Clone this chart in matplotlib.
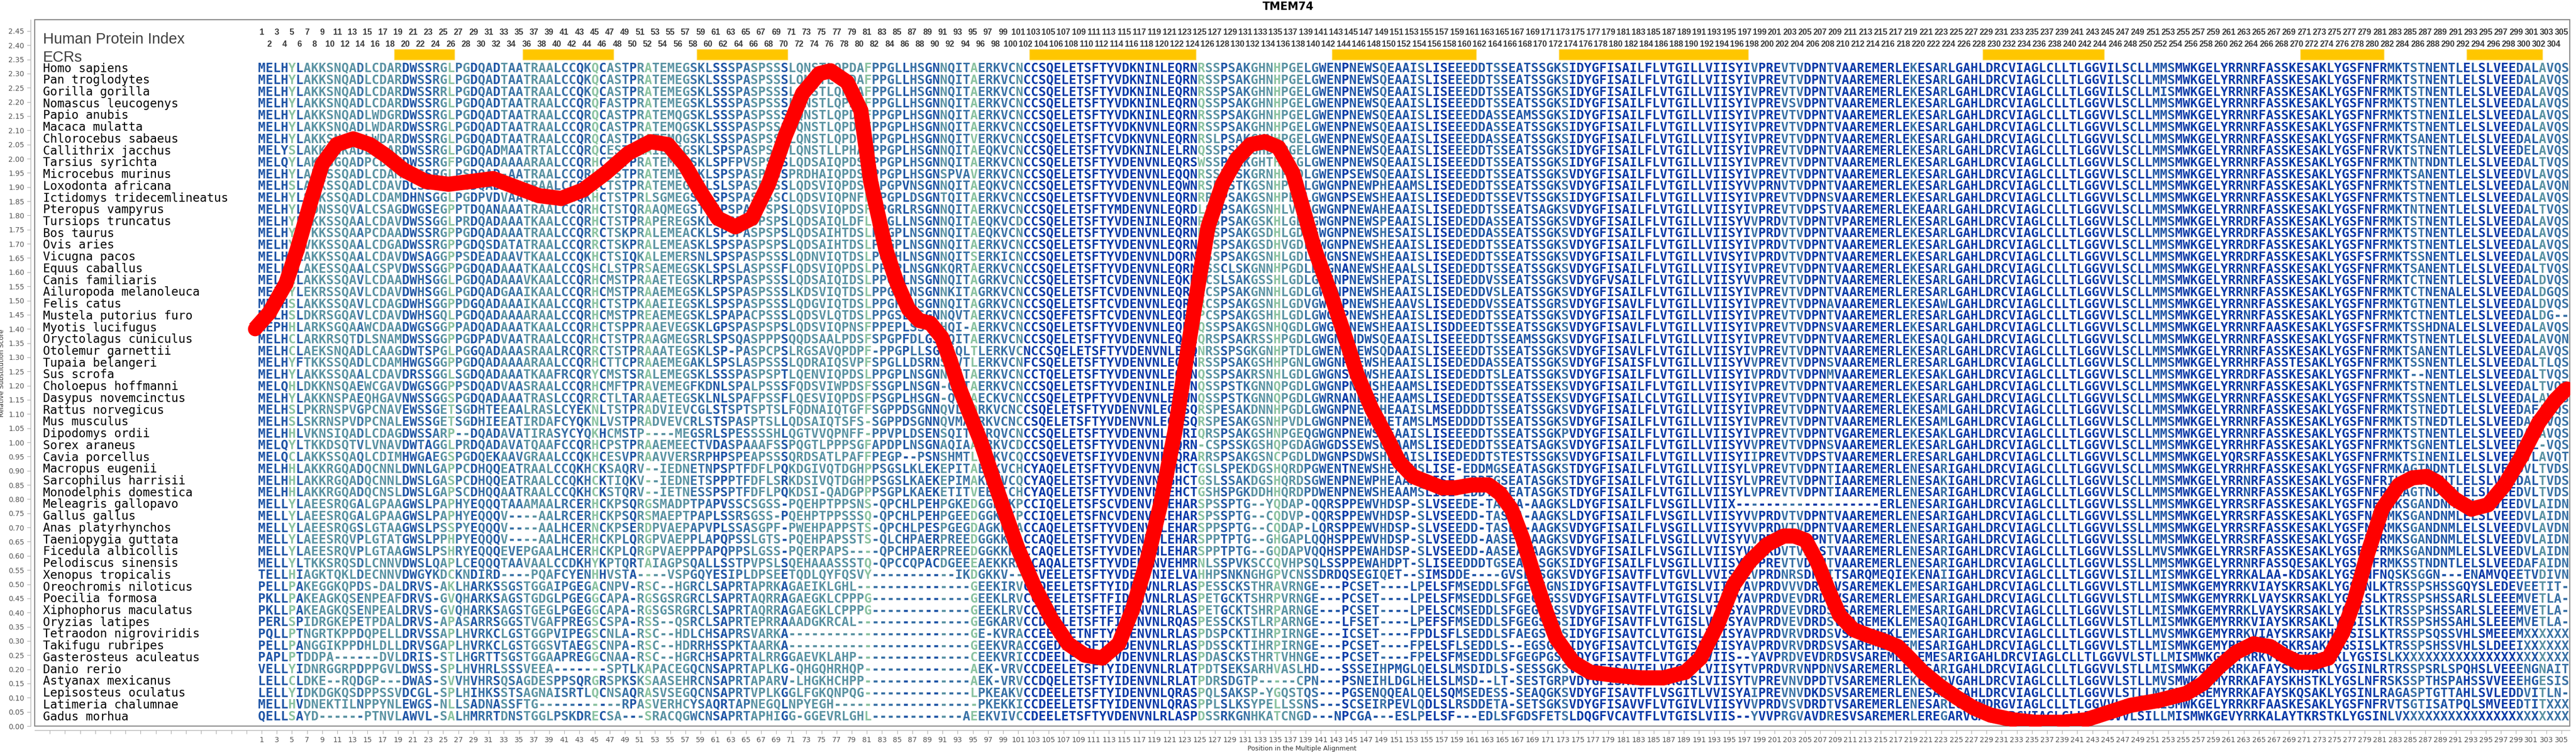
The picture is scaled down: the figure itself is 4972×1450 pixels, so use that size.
import matplotlib
matplotlib.use("Agg")
import matplotlib.pyplot as plt
from matplotlib.patches import Rectangle
from matplotlib import font_manager
import numpy as np

title = "TMEM74"
species = ["Homo sapiens", "Pan troglodytes", "Gorilla gorilla", "Nomascus leucogenys", "Papio anubis",
           "Macaca mulatta", "Chlorocebus sabaeus", "Callithrix jacchus", "Tarsius syrichta", "Microcebus murinus",
           "Loxodonta africana", "Ictidomys tridecemlineatus", "Pteropus vampyrus", "Tursiops truncatus",
           "Bos taurus", "Ovis aries", "Vicugna pacos", "Equus caballus", "Canis familiaris",
           "Ailuropoda melanoleuca", "Felis catus", "Mustela putorius furo", "Myotis lucifugus",
           "Oryctolagus cuniculus", "Otolemur garnettii", "Tupaia belangeri", "Sus scrofa",
           "Choloepus hoffmanni", "Dasypus novemcinctus", "Rattus norvegicus", "Mus musculus",
           "Dipodomys ordii", "Sorex araneus", "Cavia porcellus", "Macropus eugenii", "Sarcophilus harrisii",
           "Monodelphis domestica", "Meleagris gallopavo", "Gallus gallus", "Anas platyrhynchos",
           "Taeniopygia guttata", "Ficedula albicollis", "Pelodiscus sinensis", "Xenopus tropicalis",
           "Oreochromis niloticus", "Poecilia formosa", "Xiphophorus maculatus", "Oryzias latipes",
           "Tetraodon nigroviridis", "Takifugu rubripes", "Gasterosteus aculeatus", "Danio rerio",
           "Astyanax mexicanus", "Lepisosteus oculatus", "Latimeria chalumnae", "Gadus morhua"]

# alignment columns 1-81
seg_a = [
"MELHYLAKKSNQADLCDARDWSSRGLPGDQADTAATRAALCCQKQCASTPRATEMEGSKLSSSPASPSSSLQNSTLQPDAF",
"MELHYLAKKSNQADLCDARDWSSRGLPGDQADTAATRAALCCQKQCASTPRATEMEGSKLSSSPASPSSSLQNSTLQRDAF",
"MELHYLAKKSNQADLCDARDWSSRRLPGDQADTAATRAALCCQKQCASTPRATEMEGSKLSSSPASPSSSLQNSTLQPDAF",
"MELHYLAKKSNQADLCDARDWSSRGLPGDQADTAATRAALCCQRQFASTPRATEMEGSKLSSSPASPSSSLQNSTLQPDAF",
"MELHYLAKKSNQADLWDGRDWSSRGLPGDQADTAATRAALCCQRQCASTPRATEMQGSKLSSSPASPSSSLQNSTLQPDAF",
"MELHYLAKKSNQADLWDARDWSSRGLPGDQADTAATRAALCCQRQCASTPRATEMQGSKLSSSPASPSSSLQNSTLQPDTF",
"MELHYLAKKSNQADLWDARDWSSRGLPGDQADTAATRAALCCQRQCASTPRATEMQGSKLSSSPASPSSSLQNSTLQPDTF",
"MELYSLAKKSNKADLCDARDWSSRGLPGDQADMAATRTALCCQRQCESTPRAIEMEGSKLSPSPASPSPSLQNSTLLPHAF",
"MELQYLAKKSGQADPCDAMDWSSRGFPGDQADAAAARAALCCQRHCTSTPRATEMEGSKLSPFPVSPSTSLQDSAIQPDSF",
"MELHYLAEKSSQADLCDAMNWSSRGLPSDQAD-AATRAALCCQRHCTSTPRATEMEGSKLSPSPASPCSSPRDHAIQPDSF",
"MELHSLAQKSSQADLCDAVDCSSEGPPGDQADAAATRAALCCQRQCTSTPRATEMEGSKLSLSPASPSSSLQDSVIQPDSF",
"MELHYLSKKSSQADLCDAMDHNSGGLPGDPVDVAATRAALCCQKHCTSTPRLSGMEGSRLSPSPASPSSCLQDSVIQPNFF",
"MELHYLADNSSQVALCSAGDWGSEGPPTDQANAAATRAALCCQRHCTSTQRAAQMEGSTLSPSPASPSPSLQDSVIQPDSF",
"MELHYLAKKSSQAALCDAVDWSSGGLPRDQADAAATKAALCCQRHCTSTPRAPEREGSKLSPSPASPSPSLQDSAIQLDFL",
"MELHYLVKKSSQAAPCDAADWSSRGPPGDQADAAATRAALCCQRRCTSKPRALEMEACKLSPSPASPSPSLQDSAIHTDSL",
"MELHYLVKKSSQAALCDGADWSSRGPPGDQSDATATRAALCCQRRCTSKPRALEMEASKLSPSPASPSPSLQDSAIHTDSL",
"MELHYLAKKSSQAALCDAVDWSAGGPPSDEADAAVTKAALCCQKHCTSIQKALEMERSNLSPSPASPSSSLQDNVIQTDSL",
"MELHYLAKESSQAALCSPVDWSSGGPPGDQADAAATKAALCCQSHCLSTPRSAEMEGSKLSPSLASPSSFLQDSVIQPDSL",
"MELHCLAKKSSQAVLCDAADWHSGGLPGDQADAAAVKAALCCQRHCMSTPRAAETEGSKLRPSPASPSSSLQDSAIQIDSL",
"MELHYLEKRSSQAVLCDAVDWHSGGLPGDQADGAAIKAALCCQRHCMSTPRAAEMEGSKLSPSPASPSSSLKDSVIQTDSL",
"MELHSLAKKSSQAVLCDAGDWHSGGPPDGQADAAAIKAALCCQRHCTSTPKAAEIEGSKLSPSPASPSSSLQDGVIQTDSL",
"MELHSLDKRSGQAVLCDAVDWHSGQLPGDQADAAAARAALCCQRHCMSTPREAEMEGSKLSPAPACPSSSLQDSVLQTDSL",
"MEPHHLARKSGQAAWCDAADWGSGGPPADQADAAATKAALCCQRHCTSPPRAAEVEGSKLGPSPASPSPSLQDSVIQPNSF",
"MELHCLARKRSQTDLSNAMDWSSGGPPGDPADVAATRAALCCQRHCTSTPRAAGMEGSRLSPSQASPPPSQQDSAALPDSF",
"MELHCLAEKSNQADLCAAGDWTSPGLPGGQADAAASRAALRCQRRCTSTPRAAATEGSKLSP-PASPCPSLRGSAVQPDPF",
"MELHYFTKKSSQADLCDAMHWGSGGPPGDQADAAAARAALCCQRHCTTCPRAAEMEGAKLSPSLASPSSSLQDRAIQSVPF",
"MELHYLAKKSSQAALCDAVDRSSGGLSGDQADAAATKAAFRCQRYCMSTSRALEMEGSKLSSSPASPSPTLQENVIQPDSL",
"MELQHLDKKNSQAEWCGAVDWGSGGPPSDQADVAASRAALCCQRHCMFTPRAVEMEGFKDNLSPALPSSSFQDSVIWPDSF",
"MELHYLAKKNSPAEQHGAVNWSSGGSPGDQADAAATRASLCCQRRCTLTARAAETEGSKLNLSPAFPSSFLQESVIQPDSF",
"MELHSLPKRNSPVGPCNAVEWSSGETSGDHTEEAALRASLCYEKNLTSTPRADVIEVCGLSTSPTSPTSLFQDNAIQTGFF",
"MELHSLSKRNSPVDPCNALEWSSGETSGDHIEEATIRDAFCYQKNLVSTPRADVEVCRLSTSPASPTSLLQDSAIQTSFS",
"MELHHLVKNSIQADLCDAGDWSSARP--DQADAVATIRASYCYQKHCMSTP----MEGSRLSPESSSSHLQGTVVQPNFF",
"MELQYLTKKDSQTVLVNAVDWTAGGLPRDQADAVATQAAFCCQRHCPSTPRAAEMEECTVDASPAAAFSSPQGTLPPPSGF",
"MELQCLAKKSSQAQLCDIMHWGAEGSPGDQEKAAVGRAALCCQKHCESVPRAAVVERSRPHPSPEAPSSSQRDSATLPAFF",
"MELHHLAKKRGQADQCNNLDWNLGAPPCDHQQEATRAALCCQKHCKSAQRV--IEDNETNPSPTFDFLPQKDGIVQTDGHP",
"MELHHLAKKRGQADQCNNLDWSLGASPCDHQQEATRAALCCQKHCKTIQKV--IEDNETSPPPTFDFLSRKDSIVQTDGHP",
"MELHHLAKKRGQADQCNSLDWSLGAPSCDHQQAATRAALCCQKHCKSTQRV--IETNESSPSPTFDFLPQKDSI-QADGPP",
"MELLYLAEESRQGALGPAAGWSLPAPHYEQQQTAAAMAALRCERHCKPSQRGSMADPTPAPVSSCSGSS-PQEHPTPPSNS",
"MELLYLAEESRQGALGPAAGWSLPAPHYEQQQV----AALRCERHCKPSQRSMAEPTPAPLSSRSGSS-PQEHPTPPSSSQ",
"MELLYLAEESRQGSLGTAAGWSLPSSPYEQQQV----AALHCERNCKPSERDPVAEPAPVPLSSASGPF-PWEHPAPPSTS",
"MELLYLAEESRQVPLGTATGWSLPPHPYEQQQV----AALHCERHCKPLQRGPVAEPPLAPQPSSLGTS-PQEHPAPSSTS",
"MELLYLAEESRQVPLGTAAGWSLPSHRYEQQQEVEPGAALHCERHCKPLQRGPVAEPPPAPQPPSLGSS-PQERPAPS---",
"MELLYLTKKSRQSDLCNNVDWSLQAPLCEQQQTAAVAALCCDKHYKPTQRTAIAGPSQALLSSTPVPSLSQEHAAASSSTQ",
"TELLHIAGKTQKLDECNNVDWGYKDCKNDIRD----PQAFCYENHHVSTA----VSPGQYESIPLDPSEETQDLQYFQSVY",
"PELLPAKEGGKQPDS-DALDRVS-AKLHARKSSGSTGGAIPGEGACNPV-RSC--HGRCLSAPRTAPRKAGAEIKLGHL--",
"PKLLPAKEAGKQSENPEAFDRVS-GVQHARKSAGSTGDGLPGEGGCAPA-RGSGSRGRCLSAPRTAQRRAGAEGKLCPPPG",
"PKLLPAKEAGKQSENPEALDRVS-GVQHARKSAGSTGEGLPGEGGCAPA-RGSGSRGRCLSAPRTAQRRAGAEGKLCPPPG",
"PERLSPIDRGKEPETPDALDRVS-APASARRSGGSTVGAFPREGSCSPA-RSS--QSRCLSAPRTEPRRAAADGKRCAL--",
"PQLLPTNGRTKPPDQPELLDRVSSAPLHVRKCLGSTGGPVIPEGSCNLA-RSC--HDLCHSAPRSVARKA-----------",
"PELLPANGGIKPPDHLDLLDRVSGAPLHVRKCLGSTGGSVTAEGSCNPA-RSC--HDRRHSSPKTAARKA-----------",
"PAPLPTDDPA------DVLDRIS-STLHGRTTSGSTGGAAPREGGCNAA-RSC--HGRCHSAPRTALRRGGAEVKLAHP--",
"VELLYIDNRGGRPDPPGVLDWSS-SPLHVHRLSSSVEEA-------SPTLKAPACEGQCNSAPRTAPLKG-QHGQHRHQP-",
"LELLCLDKE--RQDGP---DWAS-SVVHVHRSQSAGDESPPSQRGRSPKSKSAASEHRCNSAPRTAPARV-LHGKHCHPP-",
"LELLYIDKDGKQSDPPSSVDCGL-SPLHIHKSSTSAGNAISRTLQCNSAQRASVSEGQCNSAPRTVPLKGGLFGKQNPQG-",
"MELLHVDNEKTILNPPYNLEWGS-NLLSADNASSFTG-----------RPASVERHCYSAQRTAPNEGQLNPYEGH-----",
"QELLSAYD------PTNVLAWVL-SALHMRRTDNSTGGLPSKDRECSA---SRACQGWCNSAPRTAPHIGG-GGEVRLGHL",
]
# alignment columns 82-195 (right-aligned)
seg_b = [
"PPGLLHSGNNQITAERKVCNCCSQELETSFTYVDKNINLEQRNRSSPSAKGHNHPGELGWENPNEWSQEAAISLISEEEDDTSSEATSSGKSIDYGFISAILFLVTGILLVIIS",
"PPGLLHSGNNQITAERKVCNCCSQELETSFTYVDKNINLEQRNRSSPSAKGHNHPGELGWENPNEWSQEAAISLISEEEDDTSSEATSSGKSIDYGFISAILFLVTGILLVIIS",
"PPGLLHSGNNQITAERKVCNCCSQELETSFTYVDKNINLEQRNRSSPSAKGHNHPGELGWENPNEWSQEAAISLISEEEDDTSSEATSSGKSIDYGFISAILFLVTGILLVIIS",
"PPGLLHSGNNQITAERKVCNCCSQELETSFTYVDKNINLEQRNQSSPSAKGHNHPGELGWENPNEWSQEAAISLISEEEDDTSSEATSSGKSIDYGFISAILFLVTGILLVIIS",
"PPGPLHSGNNQITAERKVCNCCSQELETSFTYVDKNINLEQRNRSSPSAKGHNHPGELGWENPNEWSQEAAISLISEEEDDASSEAMSSGKSIDYGFISAILFLVTGILLVIIS",
"PPGPLHSGNNQITAERKVCNCCSQELETSFTYVDKNVNLEQRNRSSPSAKGHNHPGELGWENPNEWSQEAAISLISEEEDDASSEATSSGKSIDYGFISAILFLVTGILLVIIS",
"PPGPLHSGNNQITVERKVCNCCSQELETSFTCVDKNVNLEQRNRSLPSAKGHNHPGELGWENPNEWSQEAAISLISEEEDDASSEATSSGKSIDYGFISAILFLVTGILLVIIS",
"PPGPLHSGNNQITAEQKVCNCCSQELETSFTYVDKNINLELRNQSSPSVKGHDHPGELGWENPNEWSQEAAISLISEEEDDTSSEATSSGKSIDYGFISAILFLVTGILLVIIS",
"PPGPLHSGNNQITAERKVCNCCSQELETSFTYVDENVNLEQRSWSSPSAKGHTHSGGLGWENPNEWSQEAAISLISEEEDDTSSEATSSGKSIDYGFISAILFLVTGILLVIIS",
"PPGPLHSGNSPVAVERKVCNCCSQELETSFTYVDENVNLEQQNRSSPSSKGRNHPGDLGWENPSEWSQEAAISLISEEEDDTSSEATSSGKSVDYGFISAILFLVTGILLVIIS",
"PPGPVNSGNNQITAEQKVCNCCSQELETSFTYVDENVNLEQWNRSFPSTKGSNHPGTLGWGNPNEWPHEAAMSLISEDEDDTSSEATSSGKSVDYGFISAILFLVTGILLVIIS",
"PPGPLDSGNTQITAERKVCNCCSQELETSFTYVDENVNLEQRNRRSPSAKGSNHPEDLGWGNPSEWSHEAAISLISEDEDDTSSEVTSSGKSIDYGFISAILFLVTGILLVIIS",
"PPGRLRSGNNQITAERKVCNCCSQELETSFTYMDENVNLEQRDLSSPSAKGSNHLVDLGWGNPNEWAHEAAISLISEDEDDTSSEATSAGKSVDYGFISAILFLVTGILLVIIS",
"PPGLLNSGNNQITAEQKVCDCCSQELETSFTYVDENINLEQRNRCSPSAKGSKHLGDLGWGNPNEWSPEAAISLISEDEDDASSEATSSGKSVDYGFISAILFLVTGILLVIIS",
"PPGPLNSGNNQITAEQKVCNCCSQELETSFTYVDENVNLEQRNRRSPSAKGSDHLGDLGWGNPNEWSHESAISLISEDEDDASSEATSSGKSVDYGFISAILFLVTGILLVIIS",
"PPGPLNSGNNQITAERKVCNCCSQELETSFTYVDENVNLEQRNRRSPSAKGSDHVGDLDWGNPNEWSHEAAISLISEDEDDTSSEATSSGKSVDYGFISAILFLVTGILLVIIS",
"PQGHLNSGNNQITSERKICNCCSQELETSFTYVDENVNLDQRNRSSPSAKGSNHLGDLGWGNSNEWSHEAAISLISEDEDDTSSEATSSGKSVDYGFISAILFLVTGILLVIVS",
"PPGPLNSGNKQRTAERKVCNCCSQELETSFTYVDENVNLEQRNRSSCLSKGNNHPGDLDWGNANEWSHEAALSLISEDEDDTSSEATSSGKSVDYGFISAILFLVTGILLVIIS",
"PPGPLNSGNNQITAGRKVCNCCSQELETSFTCVDENVNLEQKNRCSLSAKGSSHLGDLGWGNPNEWSHEPAISLISEDEDDVSSEATSSGKSVDYGFVSAILFLVTGILLVIIS",
"PPGPLNSGNNKITAGRKVCNCCSQELETSFTCVDENVNLEQRNRCSPSAKGNNHLGDLGWANPNEWSHEAAISLISEDEDDVSLEATSSGKSVDYGFISAILFLVTGILLVIIS",
"PPGPLNSGNNQITAGRKVCNCCSQELETSFTCVDENVNLEQRNRCSPSAKGSNHLGDVGWGNPNEWSHEAAVSLISEDEDDVSSEATSSGRSVDYGFISAVLFLVTGILLVIIS",
"PPGSLNSGNNQVTAERKVCNCCSQEFETSFTCVDENVNLEQRNPCSPSAKGSHHLGDLGWGNPNEWSHEAAISLISEDEDDTSSEATSSGKSVDYGFISAILFLVTGILLVIIS",
"PPEPLSSGNHQI-AERKVCNCCSQELETSFTYVDENVNLEQRNQSSPSAKGSNHQGDLGWGNPNEWSHEAAISLISDDEEDTSSEATSSGKSVDYGFISAVLFLVTGILLVIIS",
"SPGPFDLGSSQITAERKVCNCCSQELETSFTYVDENVNLEQRNQRSPSAKRSSHPGDLGWGNPNDWSQEAAISLISEEEDDTSSEAMSSGKSVDYGFISAILFLVTGILLVIIS",
"PPGPLLSGNSQLTLERKVCNCCSQELETSFTYVDENVNLEQQNRSSPSGKGNHPTDLGWENPNEWSQDAAISLISEEEDDTSSEATSSGKSVDYGFISAVLFLVTGILLVIIS",
"SPGLLDSRNSEVTLERKVCNFCSQELETSFTYVDENVNLEQRNRSSPSAKGSHHPGNLGWGNPNEWSHEAAISLISEDEDDASSEATSSGKSVDYGFISAISFLVTGILLVIIS",
"PPGPLNSGNNLITAERKVCNCCTQELETSFTYVDENVNLEQRNQSSPSAKRSNHLGDLGWGNSNEWSHEAAISLISEDEDDTSLEATSSGKSVDYGFISAILFLVTGILLVIIS",
"SSGPLNSGN-QITAERKVCNCCSQELETSFTYVDENINLEQWNQSSPSTKGNNQPGDLGWGNPNENSHEAAMSLISEDEDDTSSEATSSEKSVDYGFISAILFLVTGILLVIIS",
"PSGPLHSGN-QLTAECKVCNCCSQELETPFTYVDENVNLEQWNQSSPSTKGNNQPGDLGWRNANEWSHEAAMSLISEDEDDTSSEATSSEKSVDYGFISAILCLVTGILLVIIS",
"PSGPPDSGNNQVLADRKVCNCCSQELETSFTYVDENVNLEQRSQRSPESAKDNNHPGDLGWGNPNEWSHEAAISLMSEDDDDTSSEATSSGKSVDYGFISAILFLVTGILLVIIS",
"LSGPPDSGNNQVMADRKVCNCCSQELETSFTYVDENVNLEQRSQRSPESAKGSNHPVDLGWGNPNEWSHETAMSLMSEDDDDTSSEATSSGKSVDYGFISAILFLVTGILLVIIS",
"PPVPLDSENSQITGERQVCNCCSQELETSFTYVDENVNLEQRIQRSPSAKGSHNPGEQGWGNPNEWSQEAAISLISEEEDDTSSEATSSGKPVDYGFISAILFLVTGILLVIIS",
"APDPLNSGNAQIAAERKVCDCCSQELETSFTYVDENVNLEQRN-CSPSSKGSHQPGDAGWGDSSEWSQEAAMSLISEDEDDTSSEATSAGKSVDYGFISAILFLVTGILLVIIS",
"PEGP--PSNSHMTLERKVCQCCSQEVETSFIYVDENVNLEQRARRSPSAKGSNCPGDLDWGNPSDWSHEAAISLISEDEDDTSTESTSSGKSVDYGFISAILFLVTGILLVIIS",
"PSGSLKLEKEPITAEEKVCHCYAQELETSFTYVDENVNLEHCTGSLSPEKDGSHQRDPGWENTNEWSHEAAMSLISE-EDDMGSEATASGKSTDYGFISAILFLVTGILLVIIS",
"PSGSLKAEKEPIMAKN-VCQCYAQELETSFTYVDENVNLGHCTGSLSSAKDGSHQRDSGWENPNEWPHEAAMSLISE-EDDTGSEATASGKSTDYGFISAILFLVTGILLVIIS",
"PSGPLKAEKETITVEEKICHCYAQELETSFTYVDENVNLEHCTGSHSPGKDDHHQRDPDWENPNEWSHEAAMSLISE-EDDTGSEATASGKSTDYGFISAILFLVTGILLVIIS",
"QPCHLPEHPGKEDGGKKKPCCIQELETSFSCVDENVNLEHARSPSSPTG--YQDAP-QQRSPPEWVHDSP-SLVSEEDE-TASEA-AAGKSLDYGFISAILFLVSGILLVIIX",
"QPCHLPEHPGEEDGGKKKPCCIQELETSFNCVDENVNLEHARSPSSPTG--CQDVP-QQRSPPEWVHDSP-SLVSEEDD-TASEA-AAGKSLDYGFISAILFLVSGILLVIIS",
"QPCHLPESPGEGDAGKKKACCAQELETSFTYVDENVNLEHARSPPSPTG--CQDAP-LQRSPPEWVHDSP-SLVSEEDD-TASEA-AAGKSVDYGFISAILFLVSGILLVIIS",
"QLCHPAERPREEDGGKKKACCAQELETSFTYVDENVNLEHARSPPTPTG--GHGAPLQQHSPPEWVHDSP-SLVSEEDD-AASEA-AAGKSVDYGFISAILFLVSGILLVVIS",
"QPCHPAERPREEDGGKKKPCCAQELETSFTYVDENVNLEHARSPPTPTG--GQDAPVQQHSPPEWAHDSP-SLVSEEDD-AASEA-AAGKSVDYGFISAILFLVSGILLVIIS",
"QPCCQPACDGEEEAEKKRACCAQALETSFTYVDENVNVEHMRNLSSPVKSCCQVHPSQLSSPPEWAHDPT-SLISEEDDDTGSEA-ASGKSIDYGFISAILFLVSGILLVIIS",
"----------IKDGKKV--CCVEELETSFTYVDENVNIELVAHHPSNKNGHGPVCNSSDRDQSEGIQET--SIMSDDE----GVSEASGKSVDYGFISAVTFLVTGVLLVVIS",
"-----------GEEKIRVCCDEELETSFTYIDENVNLRLASPESSCKSTHRAVRNGE---PCSET----LPELSFMSEDDLSFGEGSGNSIDYGFISAVTFLVTGISLVIIS",
"-----------GEEKLRVCCDEELETSFTFIDENVNLRLASPETGCKTSHRPVRNGE---PCSET----LPELSFMSEDDLSFGEGSGSSVDYGFISAVTFLVTGISLVIIS",
"-----------GEEKLRVCCDEELETSFTFIDENVNLRLASPETGCKTSHRPARNGE---PCSET----LPELSCMSEDDLSFGEGSGSSVDYGFISAVTFLVTGISLVIIS",
"-----------GEGKARVCCDRELETSFTFIDENVNLRQASPESSCKSTLRPARNGE---LFSET----LPEFSFMSEDDLSFGEGSGSSIDYGFISAVTFLVTGISLVIIS",
"-----------GE-KVRACCEEDLETNFTYVDENVNLRLASPDSPCKTIHRPIRNGE---ICSET----FPDLSFLSEDDLSFAEGSGTSIDYGFISAVTCLVTGISLVIIS",
"-----------GEEKVRACCGEDLETSFTYVDENVNLRLASPDSSCKTIHRPIRNGE---PCSET----FPELSFLSEDDLS--EGSGTSIDYGFISAVTCLVTGISLVIIS",
"-----------CEEKVRICCDEELETSFSYVDENVNLRLASPDASCKSTHRTVHNGE---PCSET----FPELSFMSEDDLSFGEGPGSSTDYGFISAVTFLVTGISLVIIS",
"------------AEK-VRVCCDEELETSFTYIDENVNLRLATPDTSEKSARHVASLHD---SSSEIHPMGLQELSLMSDIDLS-SESSGKSVDYGFISAVTFLVTGISLVIIS",
"------------AEK-VRVCCDQELETSFTYIDENVNLRLATPDRSDGTP-----CPN---PSNEIHLDGLHELSLMSD--LT-SESTGRPVDYGFISAVTFLVAGISLVIIS",
"------------LPKEAKVCCDEELETSFTYIDENVNLQRASPQLSAKSP-YGQSTQS---PGSENQQEALQELSQMSEDESS-SEAQGKSVDYGFISAVTFLVSGITLVVIS",
"-------------PKEKKICCDEELETSFTYIDENVNLQRASPPLSLKSYPELLSSNS---SCSEIRPEVLQDLSLRSDDETA-SETSGKSVDYGFISAVVFLVTGIVLVIIS",
"------------AEEKVIVCCDEELETSFTYVDENVNLRLASPDSSRKGNHKATCNGD---NPCGA---ESLPELSF---EDLSFGDSFETSLDQGFVCAVTFLVTGISLVIIS",
]
# alignment columns 196-305 (right-aligned)
seg_c = [
"YIVPREVTVDPNTVAAREMERLEKESARLGAHLDRCVIAGLCLLTLGGVILSCLLMMSMWKGELYRRNRFASSKESAKLYGSFNFRMKTSTNENTLELSLVEEDALAVQS",
"YIVPREVTVDPNTVAAREMERLEKESARLGAHLDRCVIAGLCLLTLGGVILSCLLMMSMWKGELYRRNRFASSKESAKLYGSFNFRMKTSTNENTLELSLVEEDALAVQS",
"YIVPREVTVDPNTVAAREMERLEKESARLGAHLDRCVIAGLCLLTLGGVILSCLLMISMWKGELYRRNRFASSKESAKLYGSFNFRMKTSTNENTLELSLVEEDALAVQS",
"YIVPREVSVDPNTVAAREMERLEKESARLGAHLDRCVIAGLCLLTLGGVVLSCLLMMSMWKGELYRRNRFASSKESAKLYGSFNFRMKTSTNENTLELSLVEEDALAVQS",
"YIVPREVTVDPNTVAAREMERLEKESARLGAHLDRCVIAGLCLLTLGGVVLSCLLMMSMWKGELYRRNRFASSKESAKLYGSFNFRMKTSTNENILELSLVEEDALAVQS",
"YIVPREVTVDPNTVAAREMERLEKESARLGAHLDRCVIAGLCLLTLGGVVLSCLLMMSMWKGELYRRNRFASSKESAKLYGSFNFRMKTSTNENTLELSLVEEDALAVQS",
"YIVPREVTVDPNTVAAREMERLEKESARLGAHLDRCVIAGLCLLTLGGVVLSCLLMMSMWKGELYRRNRFASSKESAKLYGSFNFRMKTSANENTLELSLVEEDALAVQS",
"YIVPREVTVDPNTVAAREMERLEKESARLGAHLDRCVIAGLCLLTLGGVVLSCLLMMSMWKGELYRRNRFASSKESAKLYGSFNFRVKTSTNENTLELSLVEEDELAVQS",
"YIVPREVTVDPNTVAAREMERLEKESARLGAHLDRCVIAGLCLLTLGGVVLSCLLMMSMWKGELYRRNRFASSKESAKLYGSFNFRMKTNTNDNTLELSLVEEDALTVQS",
"YIVPREVTVDPNTVAAREMERLEKESARLGAHLDRCVIAGLCLLTLGGVVLSCLLMMSMWKGELYRRNRFASSKESAKLYGSFNFRMKTSANENTLELSLVEEDVLAVQS",
"YVVPRNVTVDPNTVAAREMERLEKESARLGAHLDRCVIAGLCLLTLGGVVLSCLLMMSMWKGELYRRNRFASSKESAKLYGSFNFRMKTSTNENTLELSLVEEDALAVQN",
"YIVPREVTVDPNSVAAREMERLEKESARLGAHLDRCVIAGLCLLTLGGVVLSCLLMMSMWKGELYRRNRFASSKESAKLYGSFNFRMKTSTNENTLELSLVEEDALAVQS",
"YIVPREVTVDPSTVAAREMERLEKEAARLGAHLDRCVIAGLCLLTLGGVVLSCLLMMSMWKGELYRRNRFASSKESAKLYGSFNFRMKTNTNENTLELSLVEEDALTVQS",
"YVVPRDVTVDPNTVPAREMERLEKESARLGAHLDRCVIAGLCLLTLGGVVLSCLLMMSMWKGELYRRDRFASSKESAKLYGSFNFRMKTSTNENTLELSLVEEDALAVQS",
"YIVPRDVTVDPNTVAAREMERLEKESARLGAHLDRCVIAGLCLLTLGGVVLSCLLMMSMWKGELYRRDRFASSKESAKLYGSFNFRMKTSTNENTLELSLVEEDALAVQS",
"YIVPRDVTVDPNTVAAREMERLEKESARLGAHLDRCVIAGLCLLTLGGVVLSCLLMMSMWKGELYRRDRFASSKESAKLYGSFNFRMKTSTNENTLELSLVEEDALAVQS",
"YIVPRDVTVDPNTVAAREMERLEKESARLGAHLDRCVIAGLCLLTLGGVVLSCLLMMSMWKGELYRRDRFASSKESAKLYGSFSFRMKTSSNENTLELSLVEEDALAVQS",
"YIVPREVTVDPNTVAAREMERLEKESARLGAHLDRCVIAGLCLLTLGGVVLSCLLMMSMWKGELYRRNRFASSKESAKLYGSFNFRMKTSANENTLELSLVEEDALTVQS",
"YVVPREVTVDPNTVAAREMERLEKESARLGAHLDRCVIAGLCLLTLGGVVLSCLLMMSMWKGELYRRNRFASSKESAKLYGSFNFRMKTCTNENTLELSLVEEDALDVQS",
"YIVPREVTVDPNTVAAREMERLERESARLGAHLDRCVIAGLCLLTLGGVVLSCLLMMSMWKGELYRRNRFASSKESAKLYGSFNFRMKTCTNENALELSLVEEDALDGQS",
"YIVPREVTVDPNAVAAREMERLEKESAWLGAHLDRCVIAGLCLLTLGGVVLSCLLMMSMWKGELYRRNRFASSKESAKLYGSFNFRMKTGTNENTLELSLVEEDALDVQS",
"YIVPREVTVDPNTVAAREMERLERESARLGAHLDRCVIAGLCLLTLGGVVLSCLLMMSMWKGELYRRNRFASSKESAKLYGSFNFRMKTCTNENTLELSLVEEDALDG--",
"YIVPREVTVDPNSVAAREMERLEKESARLGAHLDRCVIAGLCLLTLGGVVLSCLLMMSMWKGELYRRNRFAASKESAKLYGSFSFRMKTSSHDNALELSLVEEDALAVQS",
"YIVPREVTVDPNTVAAREMERLEKESAQLGAHLDRCVIAGLCLLTLGGVVLSCLLMMSMWKGELYRRNRFASSKESAKLYGSFNFRMKTSTNENTLELSLVEEDALAVQN",
"YIVPREVTVDPNTVAAREMERLEKESARLGAHLDRCVIAGLCLLTLGGVVLSCLLMMSMWKGELYRRNRFASSKESAKLYGSFNFRMKTSANENTLELSLVEEDALAVQS",
"YVVPREVTVDPNSVAAREMERLERESARLGAHLDRCVIAGLCLLTLGGVVLSCLLMMSMWKGELYRRHRFASSTESAKLYGSFNFRMKTSSNENTLELSLVEEDALTLQS",
"YIVPRDVTVDPNMVAAREMERLEKESAKLGAHLDRCVIAGLCLLTLGGVVLSCLLMMSMWKGELYRRDRFASSKESAKLYGSFNFRMKT--NENTLELSLVEEDALTVQS",
"YIVPREVTVDPNTVAAREMERLEKESARLGAHLDRCVIAGLCLLTLGGVVLSCLLMMSMWKGELYRRNRFASSKESAKLYGSFNFRMKTSTNENTLELSLVEEDALTVQR",
"YIVPREVTVDPNTVAAREMERLEKESARLGAHLDRCVIAGLCLLTLGGVVLSCLLMMSMWKGELYRRNRFASSKESAKLYGSFNFRMKTSSNENTLELSLVEEDALAVQS",
"YIVPREVTVDPNTVAAREMERLEKESAMLGAHLDRCVIAGLCLLTLGGVVLSCLLMMSMWKGELYRRNRFASSKESAKLYGSFNFRMKTSTNEDTLELSLVEEDAFAVQS",
"YIVPREVTVDPNTVAAREMERLEKESAMLGAHLDRCVIAGLCLLTLGGVVLSCLLMMSMWKGELYRRNRFASSKESAKLYGSFNFRMKTSTNEDTLELSLVEEDALAVQS",
"YIVPREVTVDPNTVGAREMERLEKESAKLGAHLDRCVIAGLCLLTLGGVVLSCLLMMSMWKGELYRRNRFASSKESAKLYGSFNFRMKTSTNENTLELSLVEEDALAVQS",
"YVVPREVTVDPNSVAAREMERLEKESARLGAHLDRCVIAGLCLLTLGGVVLSCLLMMSMWKGELYRRHRFASSKESAKLYGSFNFRMKTSGNENTLELSLVEEDAL-VQS",
"YIIPREVTVDPSTVAAREMERLERESARLGAHLDRCVIAGLCLLTLGGVVLSCLLMMSMWKGELYQRSRFASSKESAKLYGSFNFRMKTSINENILELSLVEEDVLAVQT",
"YLVPREVTVDPNTIAAREMERLENESARIGAHLDRCVIAGLCLLTLGGVVLSCLLMMSMWKGELYRRHRFASSKESAKLYGSFNFRMKAGTNDNTLELSLVEEDVLTVDS",
"YLVPREVTVDPNTIAAREMERLENESAKIGAHLDRCVIAGLCLLTLGGVVLSCLLMMSMWKGELYRRNRFASSKESAKLYGSFNFRIKAGTNDNTLELSLVEEDALTVDS",
"YLVPREVTVDPNTIAAREMERLENESARIGAHLDRCVIAGLCLLTLGGVVLSCLLMMSMWKGELYRRNRFASSKESAKLYGSFNFRMKAGTNDNTLELSLVEEDVLTVDS",
"------------------ERLENESARIGAHLDRCVIAGLCLLTLGGVVLSSLLMMSMWKGELYRRSRFASSKESAKLYGSFNFRMKSGANDNMLELSLVEEDVLAIDN",
"YVVPRDVTVDPNTVAAREMERLENESARIGAHLDRCVIAGLCLLTLGGVVLSSLLMMSMWKGELYRRSRFASSKESAKLYGSFNFRMKSGANDNMLELSLVEEDVLAIDN",
"YVVPRDVTVDPNTVAAREMERLENESARIGAHLDRCVIAGLCLLTLGGVVLSSLLMMSMWKGELYRRSRFASSKESAKLYGSFNFRMKSGANDNMLELSLVEEDVLAVDN",
"YVVPRDVTVDPNTVAAREMERLENESARIGAHLDRCVIAGLCLLTLGGVVLSSLLMMSMWKGELYRRSRFASSKESAKLYGSFNFRMKSGANDNMLELSLVEEDVLAIDN",
"YVVPRDVTVDPSTVAAREMERLENESARIGAHLDRCVIAGLCLLTLGGVVLSSLLMVSMWKGELYRRSRFASSKESAKLYGSFNFRMKSGANDNMLELSLVEEDVLAIDN",
"YVVPREVTVDPNTVAAREMERLENESARIGAHLDRCVIAGLCLLTLGGVVLSSLLMMSMWKGELYRRNRFASSQESAKLYGSFNFRMKSSTNDNTLELSLVEEDAFAIDN",
"YLVPRDNRSDPNITSARQMEQIEKENAIIGAHLDRCVIAGLCLLTLGGVVLSILLMISMWKGELYRRKALAA-KDSAKLYGSINFNQSKSGGN---ENAMVQEETVDIVN",
"YAVPRDVVVDRDSVSAREMEKLEMESARIGAHLDRCVIAGLCLLTLGGVVLSTLLMISMWKGEMYRRKVIAYSKRSAKLYGSINLKTRSSPSHSSGQYSLEDEVEETIT-",
"YAVPRDVEVDRDSVSAREMERLEMESARIGAHLDRCVIAGLCLLTLGGVVLSTLLMISMWKGEMYRRKLVAYSKRSAKLYGSISLKTRSSPSHSSARLSLEEEMVETLA-",
"YAVPRDVEVDRDSVSAREMERLEMESARIGAHLDRCVIAGLCLLTLGGVVLSTLLMISMWKGEMYRRKLVAYSKRSAKLYGSISLKTRSSPSHSSARLSLEEEMVETLA-",
"YAVPRDVEVDRDSVSAREMEKLEMESAQIGAHLDRCVIAGLCLLTLGGVVLSTLLMISMWKGEMYRRKVIAYSKRSAKLYGSISLKTRSSPSHSSAHLSLEEEMVETLA-",
"YAVPRDVRVDRDSVSAREMEKLEMESARIGAHLDRCVIAGLCLLTLGGVVLSTLLMVSMWKGEMYRRKVIAYSKRSAKHYGSISLKTRSSPSQSSVHLSMEEEMXXXXXX",
"YAVPRDVRVDRDSVSAREMERLEMESARIGAHLDRCVIAGLCLLTLGGVVLSTLLMISMWKGEMYRRKVIAYSKRSAKHYGSISLKTRSSPSHSSVHLSLDEEIXXXXXX",
"YAVPRDVEVDRDSVSAREMEKLEMESARIGAHLDRCVIAGLCLLTLGGVVLSTLLMISMWKGEMYRRKVVAYSKRSAKLYGSISLKXXXXXXXXXXXXXXXXXXXXXX",
"YTVPRDVRVNPDNVSAREMERLENESARIGAHLDRCVIAGLCLLTLGGVVLSTLLMISMWKGEMYRRKAFAYSKHSAKLYGSINLRTRSSPSRLSPQHSLVEEENGNAIT",
"YTVPREVNVDPDTVSAREMERLEKESARVGAHLDRCVIAGLCLLTLGGVVLSTLLMVSMWKGEMYRRKAFAYSKHSTKLYGSLNFRSKSSPTHSPAHSSVVEEEHGESIS",
"YAIPREVNVDKDSVSAREMERLENESARIGAHLDRCVIAGLCLLTLGGVVLSTLLMISMWKGEMYRRKAFAYSKQSAKLYGSINLRAGASPTGTTAHLSVLEDDVITLN-",
"YVVPRDVSVDRDTVSAREMERLENESARLGSHMDRGVIAGLCLLTLGGVVLSTLLMISMWKGELYRRKRFAASKESAKLYGSFNFRVTSGTISATPQLSMVEEDTITXXX",
"YVVPRGVAVDRESVSAREMERLEREGARVGAHLDRCVIAGLCLLTLGGVVLSILLMISMWKGEVYRRKALAYTKRSTKLYGSINLVXXXXXXXXXXXXXXXXXXXXXX",
]

# conservation level per column (0 = dark blue ... 4 = light green)
levels = ("111141333333323333311212342312213223"
          "333222124133213433333222112223333133333333334"
          "222212211322242222230000000000000000000000043"
          "31222333433322111011112111120000111112111111"
          "112000000000000000000000000200022200020000000"
          "00020002000000000000000000000000100111000000000100000"
          "0000000000000111221111101000001213222")

ecr_starts = [19, 36, 59, 103, 143, 173, 229, 271, 293]
ecr_ends = [26, 47, 70, 124, 161, 197, 244, 281, 302]

positions = [0.1, 2.0, 4.2, 5.7, 7.5, 9.0, 10.9, 13.1, 15.3, 17.5, 19.8, 22.7, 25.7, 28.7, 31.6, 34.6, 37.6,
             40.6, 43.5, 46.5, 49.5, 52.4, 54.7, 56.9, 59.1, 61.3, 63.6, 65.8, 68.0, 70.2, 72.5, 74.7, 76.2,
             78.4, 80.2, 81.5, 83.5, 85.0, 86.5, 87.9, 89.4, 90.9, 92.0, 93.1, 94.6, 96.1, 97.6, 99.1, 100.9,
             103.1, 105.4, 107.6, 109.8, 112.1, 114.3, 116.1, 118.0, 119.8, 121.7, 123.2, 124.7, 126.1, 128.0,
             129.9, 131.7, 133.6, 135.4, 137.3, 138.8, 140.2, 142.1, 144.0, 145.8, 147.7, 149.5, 151.4, 153.2,
             155.1, 157.0, 158.8, 161.0, 163.2, 164.7, 166.2, 167.7, 169.2, 170.7, 172.1, 174.4, 176.6, 179.6,
             183.3, 186.3, 189.2, 191.2, 193.5, 195.5, 197.7, 200.0, 202.2, 203.6, 205.1, 206.6, 208.1, 209.6,
             211.4, 213.3, 215.5, 217.3, 218.8, 220.6, 222.9, 225.1, 227.3, 229.5, 232.5, 235.4, 239.1, 242.1,
             245.0, 248.0, 251.7, 255.4, 257.6, 259.8, 262.0, 264.3, 266.5, 268.3, 270.2, 272.4, 274.2, 276.1,
             277.6, 279.4, 281.3, 283.5, 285.3, 287.2, 288.6, 290.9, 293.1, 295.3, 297.5, 299.7, 302.0, 304.2,
             305.7]
scores = [1.40, 1.457, 1.56, 1.68, 1.85, 1.98, 2.05, 2.07, 2.05, 2.01, 1.96, 1.92, 1.91, 1.92, 1.93, 1.90,
          1.87, 1.86, 1.89, 1.95, 2.02, 2.06, 2.05, 1.98, 1.88, 1.79, 1.76, 1.79, 1.91, 2.08, 2.23, 2.30, 2.31,
          2.27, 2.17, 1.92, 1.68, 1.56, 1.47, 1.43, 1.42, 1.37, 1.29, 1.20, 1.10, 1.00, 0.88, 0.765, 0.63,
          0.495, 0.377, 0.29, 0.25, 0.24, 0.29, 0.41, 0.58, 0.78, 1.035, 1.29, 1.54, 1.76, 1.91, 2.00, 2.05,
          2.06, 2.04, 1.95, 1.81, 1.68, 1.54, 1.39, 1.24, 1.12, 1.03, 0.93, 0.88, 0.86, 0.84, 0.84, 0.85, 0.85,
          0.82, 0.765, 0.66, 0.53, 0.41, 0.31, 0.225, 0.19, 0.18, 0.17, 0.17, 0.19, 0.24, 0.36, 0.495, 0.58,
          0.64, 0.67, 0.67, 0.655, 0.58, 0.48, 0.39, 0.34, 0.32, 0.30, 0.28, 0.24, 0.19, 0.14, 0.10, 0.064,
          0.039, 0.022, 0.0135, 0.0135, 0.022, 0.047, 0.073, 0.09, 0.115, 0.15, 0.21, 0.26, 0.29, 0.28, 0.25,
          0.225, 0.225, 0.24, 0.33, 0.44, 0.61, 0.765, 0.85, 0.875, 0.88, 0.86, 0.80, 0.765, 0.78, 0.85, 0.95,
          1.07, 1.15, 1.19]

colors = ["#0a3aa8", "#1f55a6", "#3a72a6", "#5b93a3", "#8ac2a0"]
n = 305

W, H = 4972, 1450
fig = plt.figure(figsize=(W / 100, H / 100), dpi=100)
ax_l, ax_r, ax_b, ax_t = 67 / W, 4960 / W, 50 / H, 1 - 38 / H
ax = fig.add_axes([ax_l, ax_b, ax_r - ax_l, ax_t - ax_b])
x0, x1 = -29.0, 306.1
ax.set_xlim(x0, x1)
ax.set_ylim(0, 2.49)
px_per_pos = (ax_r - ax_l) * W / (x1 - x0)
fs_seq = px_per_pos / (0.60205 * 100 / 72)

avail = {f.name for f in font_manager.fontManager.ttflist}
numfam = ["Liberation Sans Narrow"] if "Liberation Sans Narrow" in avail else ["Liberation Sans"]
numfs = 12.5 if numfam[0] == "Liberation Sans Narrow" else 11.5

row0, pitch = 2.318, 0.04155
for i, sp in enumerate(species):
    y = row0 - i * pitch
    a = seg_a[i][:81].ljust(81, "-")
    b = seg_b[i][-114:].rjust(114, "-")
    c = seg_c[i][-110:].rjust(110, "-")
    seq = a + b + c
    ax.text(-27.9, y, sp, fontsize=16.5, family="DejaVu Sans Mono", va="center", ha="left", color="black")
    for lv in range(5):
        s = "".join(ch if int(levels[k]) == lv else " " for k, ch in enumerate(seq))
        if s.strip():
            ax.text(0.5, y, s, fontsize=fs_seq, family="DejaVu Sans Mono", fontweight="bold",
                    va="center", ha="left", color=colors[lv])

for p in range(1, n + 1):
    yy = 2.446 if p % 2 == 1 else 2.403
    ax.text(p, yy, str(p), fontsize=numfs, family=numfam, fontweight="bold", ha="center", va="center",
            color="#3a3a3a")

for s, e in zip(ecr_starts, ecr_ends):
    ax.add_patch(Rectangle((s - 0.5, 2.349), e - s + 1, 0.037, facecolor="#ffc600", edgecolor="#ffd84d", lw=1))

ax.text(-27.9, 2.42, "Human Protein Index", fontsize=21, family=numfam, color="#404040", va="center", ha="left")
ax.text(-27.9, 2.357, "ECRs", fontsize=21, family=numfam, color="#404040", va="center", ha="left")

ax.plot(positions, scores, color="#ff0000", lw=21, solid_capstyle="butt", solid_joinstyle="round", zorder=5)
ax.plot(positions, scores, "o", ms=19, mfc="#ff0000", mec="#ff0000", zorder=6)

ax.set_yticks(np.round(np.arange(0, 2.451, 0.05), 2))
ax.set_yticklabels([f"{v:.2f}" for v in np.arange(0, 2.451, 0.05)], fontsize=9.5, color="#555555")
ticks = list(range(-27, n + 1, 2))
ax.set_xticks(ticks)
ax.set_xticklabels([str(t) if t >= 1 else "" for t in ticks], fontsize=10, color="#555555")
for sp in ["bottom", "left"]:
    ax.spines[sp].set_position(("outward", 6))
    ax.spines[sp].set_color("#aaaaaa")
for sp in ["top", "right"]:
    ax.spines[sp].set_visible(False)
ax.add_patch(Rectangle((0, 0), 1, 1, transform=ax.transAxes, fill=False, edgecolor="#888888", lw=1.5,
                       clip_on=False, zorder=0))
ax.tick_params(axis="both", colors="#aaaaaa", labelcolor="#555555", length=5)
ax.set_xlabel("Position in the Multiple Alignment", fontsize=9, color="#333333", labelpad=2)
ax.set_ylabel("Relative Substitution Score", fontsize=9, color="#333333", labelpad=4)
fig.text(0.5, 1 - 13 / H, title, ha="center", va="center", fontsize=15, fontweight="bold")
fig.savefig("out.png", dpi=100)
